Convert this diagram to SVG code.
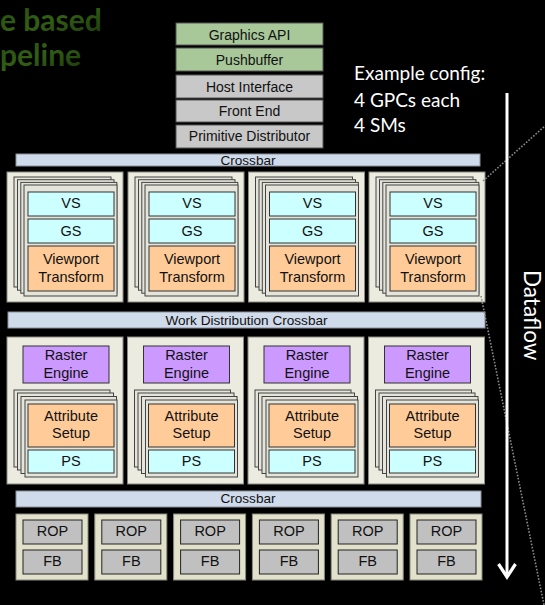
<svg xmlns="http://www.w3.org/2000/svg" width="545" height="605" viewBox="0 0 545 605">
<defs>
<style>
.t{font-family:"Liberation Sans",Arial,sans-serif;fill:#111;text-anchor:middle}
.s13{font-size:13.6px}
.s14{font-size:14.5px}
.stk{font-size:14px}
.grn{fill:#a8c89a;stroke:#555;stroke-width:1}
.gry{fill:#c8c8c8;stroke:#555;stroke-width:1}
.xb{fill:#cfdaeb;stroke:#8a8f9a;stroke-width:1}
.gpc{fill:#ebebe0;stroke:#8a8a80;stroke-width:1}
.lay{fill:#e4e4da;stroke:#444;stroke-width:1}
.cy{fill:#ccffff;stroke:#333;stroke-width:1}
.or{fill:#ffcc99;stroke:#333;stroke-width:1}
.pu{fill:#cc99ff;stroke:#333;stroke-width:1}
.rb{fill:#e2e2cc;stroke:#8a8a80;stroke-width:1}
.rg{fill:#c0c0c0;stroke:#222;stroke-width:1}
.w{font-family:Lato,"Open Sans",sans-serif;fill:#fff}
.dot{stroke:#8a8a8a;stroke-width:1.6;stroke-dasharray:1.6 1.6;fill:none}
</style>
<linearGradient id="tg" x1="0" y1="0" x2="1" y2="1">
<stop offset="0" stop-color="#234a0c"/>
<stop offset="0.5" stop-color="#335f14"/>
<stop offset="1" stop-color="#1c3a08"/>
</linearGradient>
<g id="gpc1">
<rect class="gpc" x="7" y="172" width="116" height="130"/>
<rect class="lay" x="14" y="177" width="97" height="110"/>
<rect class="lay" x="17.5" y="179.7" width="96.5" height="110.5"/>
<rect class="lay" x="20.8" y="182.4" width="96" height="110.8"/>
<rect class="lay" x="24" y="185" width="93" height="111"/>
<rect class="cy" x="28" y="192" width="86" height="24"/>
<rect class="cy" x="28" y="219" width="86" height="24"/>
<rect class="or" x="28" y="246" width="86" height="45"/>
<text class="t s14" x="71" y="208">VS</text>
<text class="t s14" x="71" y="236">GS</text>
<text class="t s14" x="71" y="264">Viewport</text>
<text class="t s14" x="71" y="282">Transform</text>
</g>
<g id="gpc2">
<rect class="gpc" x="7" y="337" width="116" height="147"/>
<rect class="pu" x="23" y="346" width="86" height="37"/>
<text class="t s14" x="66" y="360">Raster</text>
<text class="t s14" x="66" y="378">Engine</text>
<rect class="lay" x="14" y="390" width="96" height="77"/>
<rect class="lay" x="17.5" y="393" width="96" height="77"/>
<rect class="lay" x="21" y="396.5" width="95.5" height="77"/>
<rect class="lay" x="25" y="400" width="92" height="77"/>
<rect class="or" x="28" y="404" width="86" height="43"/>
<rect class="cy" x="28" y="450" width="86" height="23"/>
<text class="t s14" x="71" y="421">Attribute</text>
<text class="t s14" x="71" y="438">Setup</text>
<text class="t s14" x="71" y="466">PS</text>
</g>
<g id="rop">
<rect class="rb" x="16" y="514" width="72" height="66"/>
<rect class="rg" x="23" y="520" width="59" height="24"/>
<rect class="rg" x="23" y="550" width="59" height="24"/>
<text class="t s14" x="52.5" y="536">ROP</text>
<text class="t s14" x="52.5" y="566">FB</text>
</g>
</defs>
<rect x="0" y="0" width="545" height="605" fill="#000"/>
<g id="title" font-family="Lato,'Open Sans',sans-serif" font-weight="bold" font-size="30" fill="url(#tg)">
<text x="0" y="31">e based</text>
<text x="0" y="66">peline</text>
</g>
<g id="config">
<text class="w" x="354" y="80" font-size="19">Example config:</text>
<text class="w" x="354" y="107" font-size="19">4 GPCs each</text>
<text class="w" x="354" y="132" font-size="19">4 SMs</text>
</g>
<g id="graphics-api"><rect class="grn" x="176" y="23" width="147" height="22"/><text class="t stk" x="249.5" y="40">Graphics API</text></g>
<g id="pushbuffer"><rect class="grn" x="176" y="48" width="147" height="23"/><text class="t stk" x="249.5" y="65">Pushbuffer</text></g>
<g id="host-interface"><rect class="gry" x="176" y="75" width="147" height="23"/><text class="t stk" x="249.5" y="92">Host Interface</text></g>
<g id="front-end"><rect class="gry" x="176" y="100" width="147" height="22"/><text class="t stk" x="249.5" y="116">Front End</text></g>
<g id="primitive-distributor"><rect class="gry" x="176" y="125" width="147" height="23"/><text class="t stk" x="249.5" y="141">Primitive Distributor</text></g>
<g id="crossbar1"><rect class="xb" x="16" y="154" width="464" height="12"/><text class="t s13" x="248" y="165">Crossbar</text></g>
<g id="gpc-row1-a"><use href="#gpc1"/></g>
<g id="gpc-row1-b"><use href="#gpc1" x="121"/></g>
<g id="gpc-row1-c"><use href="#gpc1" x="241.5"/></g>
<g id="gpc-row1-d"><use href="#gpc1" x="362"/></g>
<g id="work-distribution-crossbar"><rect class="xb" x="8" y="312" width="477" height="16"/><text class="t s13" x="246.5" y="325">Work Distribution Crossbar</text></g>
<g id="gpc-row2-a"><use href="#gpc2"/></g>
<g id="gpc-row2-b"><use href="#gpc2" x="120.5"/></g>
<g id="gpc-row2-c"><use href="#gpc2" x="241"/></g>
<g id="gpc-row2-d"><use href="#gpc2" x="361.5"/></g>
<g id="crossbar2"><rect class="xb" x="16" y="491" width="465" height="16"/><text class="t s13" x="248" y="503">Crossbar</text></g>
<g id="rop1"><use href="#rop"/></g>
<g id="rop2"><use href="#rop" x="78.8"/></g>
<g id="rop3"><use href="#rop" x="157.6"/></g>
<g id="rop4"><use href="#rop" x="236.4"/></g>
<g id="rop5"><use href="#rop" x="315.2"/></g>
<g id="rop6"><use href="#rop" x="394"/></g>
<g id="connectors">
<path class="dot" d="M483,181 L546,125"/>
<path class="dot" d="M481,296 L544,605"/>
<line x1="507" y1="93" x2="507" y2="575" stroke="#fff" stroke-width="3"/>
<path d="M498.5,564 L507,577 L515.5,564" fill="none" stroke="#fff" stroke-width="3.2" stroke-linejoin="miter"/>
</g>
<g id="dataflow-label">
<text class="w" transform="translate(524,270) rotate(90)" x="0" y="0" font-size="22.5">Dataflow</text>
</g>
</svg>
